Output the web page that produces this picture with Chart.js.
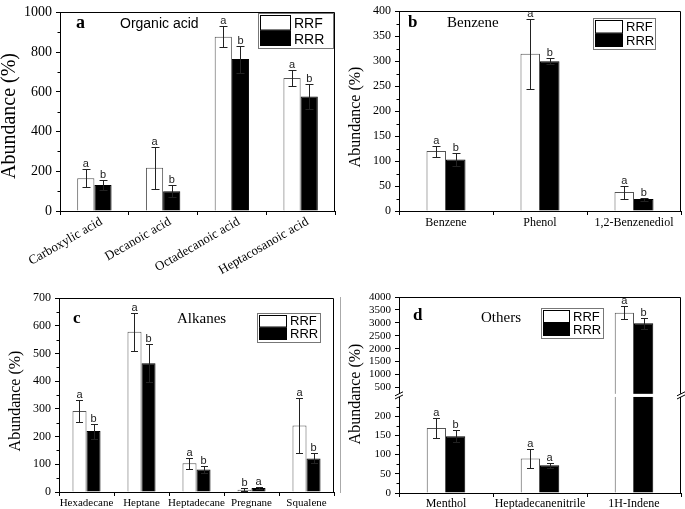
<!DOCTYPE html>
<html><head><meta charset="utf-8">
<script src="https://cdn.jsdelivr.net/npm/chart.js@4.4.1/dist/chart.umd.min.js"></script>
<style>
html,body{margin:0;padding:0;background:#fff;}
#wrap{position:relative;width:685px;height:509px;overflow:hidden;background:#fff;}
#wrap canvas{position:absolute;}
#sep{position:absolute;left:340px;top:297px;width:1px;height:196px;background:#aaa;}
</style></head><body>
<div id="wrap">
<div id="sep"></div>
<canvas id="cC" width="340" height="254" style="left:0;top:255px;width:340px;height:254px"></canvas>
<canvas id="cD" width="345" height="254" style="left:340px;top:255px;width:345px;height:254px"></canvas>
<canvas id="cA" width="340" height="290" style="left:0;top:0;width:340px;height:290px"></canvas>
<canvas id="cB" width="345" height="255" style="left:340px;top:0;width:345px;height:255px"></canvas>
</div>
<script>
// ---------------- DATA ----------------
const SERIES = ['RRF', 'RRR'];
const Y_TITLE = 'Abundance (%)';

// (a) Organic acid
const catsA = ['Carboxylic acid', 'Decanoic acid', 'Octadecanoic acid', 'Heptacosanoic acid'];
const rrfA = [165, 218, 877, 670];
const rrfErrA = [44, 106, 53, 42];
const rrrA = [131, 100, 765, 576];
const rrrErrA = [23, 29, 68, 62];
const sigRrfA = ['a', 'a', 'a', 'a'];
const sigRrrA = ['b', 'b', 'b', 'b'];

// (b) Benzene
const catsB = ['Benzene', 'Phenol', '1,2-Benzenediol'];
const rrfB = [120, 315, 38];
const rrfErrB = [11, 70, 13];
const rrrB = [103, 300, 24];
const rrrErrB = [13, 6, 3];
const sigRrfB = ['a', 'a', 'a'];
const sigRrrB = ['b', 'b', 'b'];

// (c) Alkanes
const catsC = ['Hexadecane', 'Heptane', 'Heptadecane', 'Pregnane', 'Squalene'];
const rrfC = [292, 578, 104, 8, 240];
const rrfErrC = [39, 68, 20, 5, 98];
const rrrC = [220, 465, 81, 14, 121];
const rrrErrC = [27, 68, 13, 3, 18];
const sigRrfC = ['a', 'a', 'a', 'b', 'a'];
const sigRrrC = ['b', 'b', 'b', 'a', 'b'];

// (d) Others (broken y axis)
const catsD = ['Menthol', 'Heptadecanenitrile', '1H-Indene'];
const rrfD = [169, 90, 3390];
const rrfErrD = [26, 25, 260];
const rrrD = [148, 72, 2985];
const rrrErrD = [15, 6, 215];
const sigRrfD = ['a', 'a', 'a'];
const sigRrrD = ['b', 'a', 'b'];

// tick values
const yTicksD = [0, 50, 100, 150, 200, 500, 1000, 1500, 2000, 2500, 3000, 3500, 4000];
const minorA = [100, 300, 500, 700, 900];
const minorB = [25, 75, 125, 175, 225, 275, 325, 375];
const minorC = [50, 150, 250, 350, 450, 550, 650];
const minorD = [25, 75, 125, 175, 225];
const BREAK_AT = 250;

// ---------------- STYLE ----------------
const SERIF = "'Liberation Serif','Times New Roman',Times,serif";
const SANS = "'Liberation Sans',Arial,Helvetica,sans-serif";
const BRK = { lowFrac: 0.49, gapFrac: 0.016 };

class BrokenScale extends Chart.LinearScale {
  buildTicks() { return yTicksD.map(v => ({ value: v })); }
  getPixelForValue(value) {
    const h = this.bottom - this.top;
    const lowPx = h * BRK.lowFrac, gapPx = h * BRK.gapFrac;
    if (value <= BREAK_AT) return this.bottom - (value - this.min) / (BREAK_AT - this.min) * lowPx;
    return this.bottom - lowPx - gapPx - (value - BREAK_AT) / (this.max - BREAK_AT) * (h - lowPx - gapPx);
  }
  getValueForPixel(pixel) {
    const h = this.bottom - this.top;
    const lowPx = h * BRK.lowFrac, gapPx = h * BRK.gapFrac;
    const d = this.bottom - pixel;
    if (d <= lowPx) return this.min + d / lowPx * (BREAK_AT - this.min);
    return BREAK_AT + (d - lowPx - gapPx) / (h - lowPx - gapPx) * (this.max - BREAK_AT);
  }
}
BrokenScale.id = 'broken';
BrokenScale.defaults = Chart.LinearScale.defaults;
Chart.register(BrokenScale);

function decoPlugin(cfg) {
  return {
    id: 'deco_' + cfg.id,
    afterDatasetsDraw(chart) {
      const ctx = chart.ctx, a = chart.chartArea, y = chart.scales.y;
      ctx.save();
      // axis break
      if (cfg.broken) {
        const h = a.bottom - a.top;
        const yLow = a.bottom - h * BRK.lowFrac;
        const yUp = yLow - h * BRK.gapFrac;
        ctx.fillStyle = '#fff';
        ctx.fillRect(a.left - 1.5, yUp, a.right - a.left + 3, yLow - yUp);
        ctx.strokeStyle = '#000'; ctx.lineWidth = 1;
        [a.left].forEach(x => {
          ctx.beginPath();
          ctx.moveTo(x - 4, yUp + 2); ctx.lineTo(x + 4, yUp - 2);
          ctx.moveTo(x - 4, yLow + 2); ctx.lineTo(x + 4, yLow - 2);
          ctx.stroke();
        });
      }
      // error bars + significance letters
      chart.data.datasets.forEach((ds, i) => {
        const meta = chart.getDatasetMeta(i);
        meta.data.forEach((el, j) => {
          const v = ds.data[j], e = ds.err[j];
          const yt = Math.round(y.getPixelForValue(v + e)) + 0.5;
          const yb = Math.round(y.getPixelForValue(v - e)) + 0.5;
          const x = Math.round(el.x) + 0.5, c = cfg.cap / 2;
          ctx.strokeStyle = '#222'; ctx.lineWidth = 1;
          ctx.beginPath();
          ctx.moveTo(x, yt); ctx.lineTo(x, yb);
          ctx.moveTo(x - c, yt); ctx.lineTo(x + c, yt);
          ctx.moveTo(x - c, yb); ctx.lineTo(x + c, yb);
          ctx.stroke();
          ctx.fillStyle = '#222';
          ctx.font = '11px ' + SANS;
          ctx.textAlign = 'center'; ctx.textBaseline = 'alphabetic';
          ctx.fillText(ds.sig[j], el.x, yt - 3);
        });
      });
      ctx.restore();
    },
    afterDraw(chart) {
      const ctx = chart.ctx, a = chart.chartArea, y = chart.scales.y;
      ctx.save();
      // frame (top and right)
      ctx.strokeStyle = '#000'; ctx.lineWidth = 1;
      ctx.beginPath();
      ctx.moveTo(Math.round(a.left) + 0.5, Math.round(a.top) + 0.5);
      ctx.lineTo(Math.round(a.right) - 0.5, Math.round(a.top) + 0.5);
      ctx.lineTo(Math.round(a.right) - 0.5, Math.round(a.bottom));
      ctx.stroke();
      if (cfg.broken) {
        const h = a.bottom - a.top;
        const yLow = a.bottom - h * BRK.lowFrac;
        const yUp = yLow - h * BRK.gapFrac;
        ctx.fillStyle = '#fff';
        ctx.fillRect(a.right - 2, yUp, 3, yLow - yUp);
        ctx.beginPath();
        ctx.moveTo(a.right - 4, yUp + 2); ctx.lineTo(a.right + 4, yUp - 2);
        ctx.moveTo(a.right - 4, yLow + 2); ctx.lineTo(a.right + 4, yLow - 2);
        ctx.stroke();
      }
      // minor ticks
      ctx.beginPath();
      cfg.minor.forEach(v => {
        const py = Math.round(y.getPixelForValue(v)) + 0.5;
        ctx.moveTo(a.left - 2.5, py); ctx.lineTo(a.left, py);
      });
      ctx.stroke();
      // y-axis title
      ctx.save();
      ctx.fillStyle = '#000';
      ctx.translate(cfg.yTitle.x, cfg.yTitle.y);
      ctx.rotate(-Math.PI / 2);
      ctx.textAlign = 'center'; ctx.textBaseline = 'middle';
      ctx.font = cfg.yTitle.size + 'px ' + SERIF;
      ctx.fillText(Y_TITLE, 0, 0);
      ctx.restore();
      // panel letter + title
      ctx.fillStyle = '#000';
      ctx.textAlign = 'left'; ctx.textBaseline = 'alphabetic';
      ctx.font = 'bold ' + cfg.letter.size + 'px ' + SERIF;
      ctx.fillText(cfg.letter.text, cfg.letter.x, cfg.letter.y);
      ctx.font = cfg.title.size + 'px ' + cfg.title.family;
      ctx.fillText(cfg.title.text, cfg.title.x, cfg.title.y);
      // legend
      const L = cfg.legend;
      ctx.strokeStyle = '#777';
      ctx.strokeRect(L.x + 0.5, L.y + 0.5, L.w, L.h);
      const rowH = (L.h - 4) / 2;
      chart.data.datasets.forEach((ds, i) => {
        const ry = L.y + 2 + i * rowH;
        ctx.fillStyle = ds.backgroundColor;
        ctx.fillRect(L.x + 2, ry, L.sw, rowH);
        ctx.strokeStyle = '#000';
        ctx.strokeRect(L.x + 2.5, ry + 0.5, L.sw - 1, rowH - 1);
        ctx.fillStyle = '#000';
        ctx.font = L.font + 'px ' + SANS;
        ctx.fillText(ds.label, L.x + L.sw + 5, ry + rowH - 2.5);
      });
      ctx.restore();
    }
  };
}

function panel(cfg) {
  return new Chart(document.getElementById(cfg.id), {
    type: 'bar',
    data: {
      labels: cfg.cats,
      datasets: [
        { label: SERIES[0], data: cfg.rrf, err: cfg.rrfErr, sig: cfg.sigRrf,
          backgroundColor: '#ffffff', borderColor: '#555', borderWidth: 1,
          categoryPercentage: cfg.catPct, barPercentage: 1 },
        { label: SERIES[1], data: cfg.rrr, err: cfg.rrrErr, sig: cfg.sigRrr,
          backgroundColor: '#000000', borderColor: '#000', borderWidth: 1,
          categoryPercentage: cfg.catPct, barPercentage: 1 }
      ]
    },
    options: {
      responsive: false, animation: false,
      layout: { padding: cfg.pad },
      plugins: { legend: { display: false }, tooltip: { enabled: false } },
      scales: {
        x: {
          type: 'category', offset: true,
          grid: { offset: true, drawOnChartArea: false, drawTicks: true, tickLength: 4, color: '#000' },
          border: { color: '#000', width: 1 },
          ticks: { font: { family: SERIF, size: cfg.xFont }, color: '#000', padding: cfg.xPad,
                   labelOffset: cfg.xOff || 0,
                   autoSkip: false, minRotation: cfg.rot, maxRotation: cfg.rot },
          afterFit: s => { s.height = cfg.xH; }
        },
        y: {
          type: cfg.yType, min: cfg.yMin, max: cfg.yMax,
          grid: { drawOnChartArea: false, drawTicks: true, tickLength: 4, color: '#000' },
          border: { color: '#000', width: 1 },
          ticks: { stepSize: cfg.yStep, autoSkip: false, font: { family: SERIF, size: cfg.yFont },
                   color: '#000', padding: 4, callback: v => String(v) },
          afterFit: s => { s.width = cfg.yW; }
        }
      }
    },
    plugins: [decoPlugin(cfg)]
  });
}

panel({ id: 'cA', cats: catsA, rrf: rrfA, rrfErr: rrfErrA, rrr: rrrA, rrrErr: rrrErrA, sigRrf: sigRrfA, sigRrr: sigRrrA,
  pad: { top: 5, right: 5, left: 0, bottom: 0 }, yW: 60, xH: 79, rot: 30, xFont: 13, xPad: -1, xOff: 7, yFont: 14,
  yTitle: { x: 10, y: 116, size: 20 },
  yType: 'linear', yMin: 0, yMax: 1000, yStep: 200, minor: minorA, catPct: 0.5, cap: 8,
  letter: { text: 'a', x: 76, y: 28, size: 18 },
  title: { text: 'Organic acid', x: 120, y: 28, size: 14, family: SANS },
  legend: { x: 258, y: 13, w: 75, h: 35, sw: 31, font: 14 } });

panel({ id: 'cB', cats: catsB, rrf: rrfB, rrfErr: rrfErrB, rrr: rrrB, rrrErr: rrrErrB, sigRrf: sigRrfB, sigRrr: sigRrrB,
  pad: { top: 4, right: 4, left: 0, bottom: 0 }, yW: 59, xH: 44, rot: 0, xFont: 12, xPad: 1, yFont: 12,
  yTitle: { x: 16, y: 117, size: 16 },
  yType: 'linear', yMin: 0, yMax: 400, yStep: 50, minor: minorB, catPct: 0.415, cap: 8,
  letter: { text: 'b', x: 68, y: 27, size: 17 },
  title: { text: 'Benzene', x: 107, y: 27, size: 15, family: SERIF },
  legend: { x: 253, y: 18, w: 62, h: 31, sw: 28, font: 13 } });

panel({ id: 'cC', cats: catsC, rrf: rrfC, rrfErr: rrfErrC, rrr: rrrC, rrrErr: rrrErrC, sigRrf: sigRrfC, sigRrr: sigRrrC,
  pad: { top: 43, right: 6, left: 0, bottom: 0 }, yW: 59, xH: 17, rot: 0, xFont: 11, xPad: 1, yFont: 12,
  yTitle: { x: 16, y: 146, size: 16 },
  yType: 'linear', yMin: 0, yMax: 700, yStep: 100, minor: minorC, catPct: 0.51, cap: 7,
  letter: { text: 'c', x: 73, y: 68, size: 17 },
  title: { text: 'Alkanes', x: 177, y: 68, size: 15, family: SERIF },
  legend: { x: 257, y: 58, w: 63, h: 29, sw: 28, font: 13 } });

panel({ id: 'cD', cats: catsD, rrf: rrfD, rrfErr: rrfErrD, rrr: rrrD, rrrErr: rrrErrD, sigRrf: sigRrfD, sigRrr: sigRrrD,
  pad: { top: 42, right: 4, left: 0, bottom: 0 }, yW: 59, xH: 16, rot: 0, xFont: 12, xPad: 0, yFont: 11,
  yTitle: { x: 16, y: 139, size: 16 },
  yType: 'broken', yMin: 0, yMax: 4000, yStep: 50, minor: minorD, catPct: 0.41, cap: 7,
  broken: true,
  letter: { text: 'd', x: 73, y: 65, size: 17 },
  title: { text: 'Others', x: 141, y: 67, size: 15, family: SERIF },
  legend: { x: 201, y: 53, w: 62, h: 30, sw: 27, font: 13 } });
</script>
</body></html>
